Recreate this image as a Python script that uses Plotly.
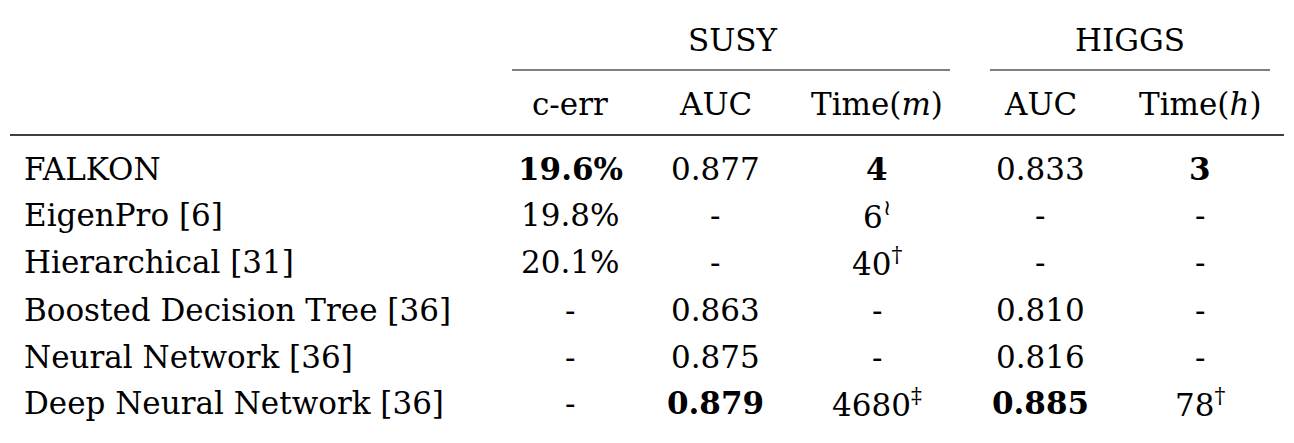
import plotly.graph_objects as go

W, H = 1294, 443
methods = ["FALKON", "EigenPro [6]", "Hierarchical [31]", "Boosted Decision Tree [36]",
           "Neural Network [36]", "Deep Neural Network [36]"]
susy_cerr = ["<b>19.6%</b>", "19.8%", "20.1%", "-", "-", "-"]
susy_auc = ["0.877", "-", "-", "0.863", "0.875", "<b>0.879</b>"]
susy_time = ["<b>4</b>", "6<sup>≀</sup>", "40<sup>†</sup>", "-", "-", "4680<sup>‡</sup>"]
higgs_auc = ["0.833", "-", "-", "0.810", "0.816", "<b>0.885</b>"]
higgs_time = ["<b>3</b>", "-", "-", "-", "-", "78<sup>†</sup>"]
groups = ["SUSY", "HIGGS"]
subheaders = ["c-err", "AUC", "Time(<i>m</i>)", "AUC", "Time(<i>h</i>)"]

col_x = [570, 715, 877, 1040, 1200]
row_y = [169, 215, 262, 310, 357, 403]
FONT = dict(family="DejaVu Serif, Liberation Serif, serif", size=31, color="black")
OFF = 8  # page body margin
FW, FH = W - 2 * OFF, H - 2 * OFF

def px(x): return (x - OFF) / FW
def py(y): return 1 - (y - OFF) / FH

ann = []
def add(text, x, y, anchor="center"):
    ann.append(dict(text=text, x=px(x), y=py(y), xref="paper", yref="paper",
                    xanchor=anchor, yanchor="middle", showarrow=False, font=FONT))

add(groups[0], 733, 40)
add(groups[1], 1130, 40)
for t, x in zip(subheaders, col_x):
    add(t, x, 104)
cols = [susy_cerr, susy_auc, susy_time, higgs_auc, higgs_time]
for i, m in enumerate(methods):
    add(m, 22, row_y[i], "left")
    for c, x in zip(cols, col_x):
        add(c[i], x, row_y[i])

shapes = []
def line(x0, x1, y, w):
    shapes.append(dict(type="line", xref="paper", yref="paper", x0=px(x0), x1=px(x1),
                       y0=py(y), y1=py(y), line=dict(color="black", width=w)))
line(10, 1284, 5, 3.5)
line(512, 950, 70, 1.2)
line(990, 1270, 70, 1.2)
line(10, 1284, 135, 1.5)
line(10, 1284, 437, 3.5)

fig = go.Figure()
fig.update_layout(width=FW, height=FH, margin=dict(l=0, r=0, t=0, b=0),
                  paper_bgcolor="white", plot_bgcolor="white",
                  xaxis=dict(visible=False), yaxis=dict(visible=False),
                  annotations=ann, shapes=shapes, showlegend=False)
fig.write_html("out.html")
